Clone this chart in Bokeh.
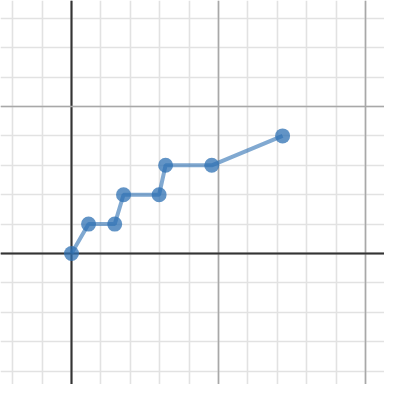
from bokeh.plotting import figure
from bokeh.models import Range1d, Grid, SingleIntervalTicker, FixedTicker
from bokeh.embed import file_html
from bokeh.resources import INLINE

# data (grid units)
xs = [0, 0.58, 1.47, 1.77, 2.98, 3.2, 4.77, 7.18]
ys = [0, 1, 1, 2, 2, 3, 3, 4]

PX = 29.4  # pixels per unit
W = H = 384
x0 = -71 / PX
y1 = 253 / PX

p = figure(width=W, height=H, output_backend="svg", toolbar_location=None,
           x_range=Range1d(x0, x0 + W / PX), y_range=Range1d(y1 - H / PX, y1),
           min_border=0, outline_line_color=None)
p.axis.visible = False
p.xgrid.ticker = SingleIntervalTicker(interval=1)
p.ygrid.ticker = SingleIntervalTicker(interval=1)
p.grid.grid_line_color = "#e2e2e2"
p.grid.grid_line_width = 1.6
p.grid.grid_line_alpha = 1.0

for dim in (0, 1):
    p.add_layout(Grid(dimension=dim, ticker=SingleIntervalTicker(interval=5),
                      grid_line_color="#a8a8a8", grid_line_width=1.6))
    p.add_layout(Grid(dimension=dim, ticker=FixedTicker(ticks=[0]),
                      grid_line_color="#333333", grid_line_width=2))

p.line(xs, ys, line_color="#2d70b3", line_width=4, line_alpha=0.6)
p.scatter(xs, ys, size=15, fill_color="#2d70b3", fill_alpha=0.75, line_color=None)

open("out.html", "w").write(file_html(p, INLINE))
